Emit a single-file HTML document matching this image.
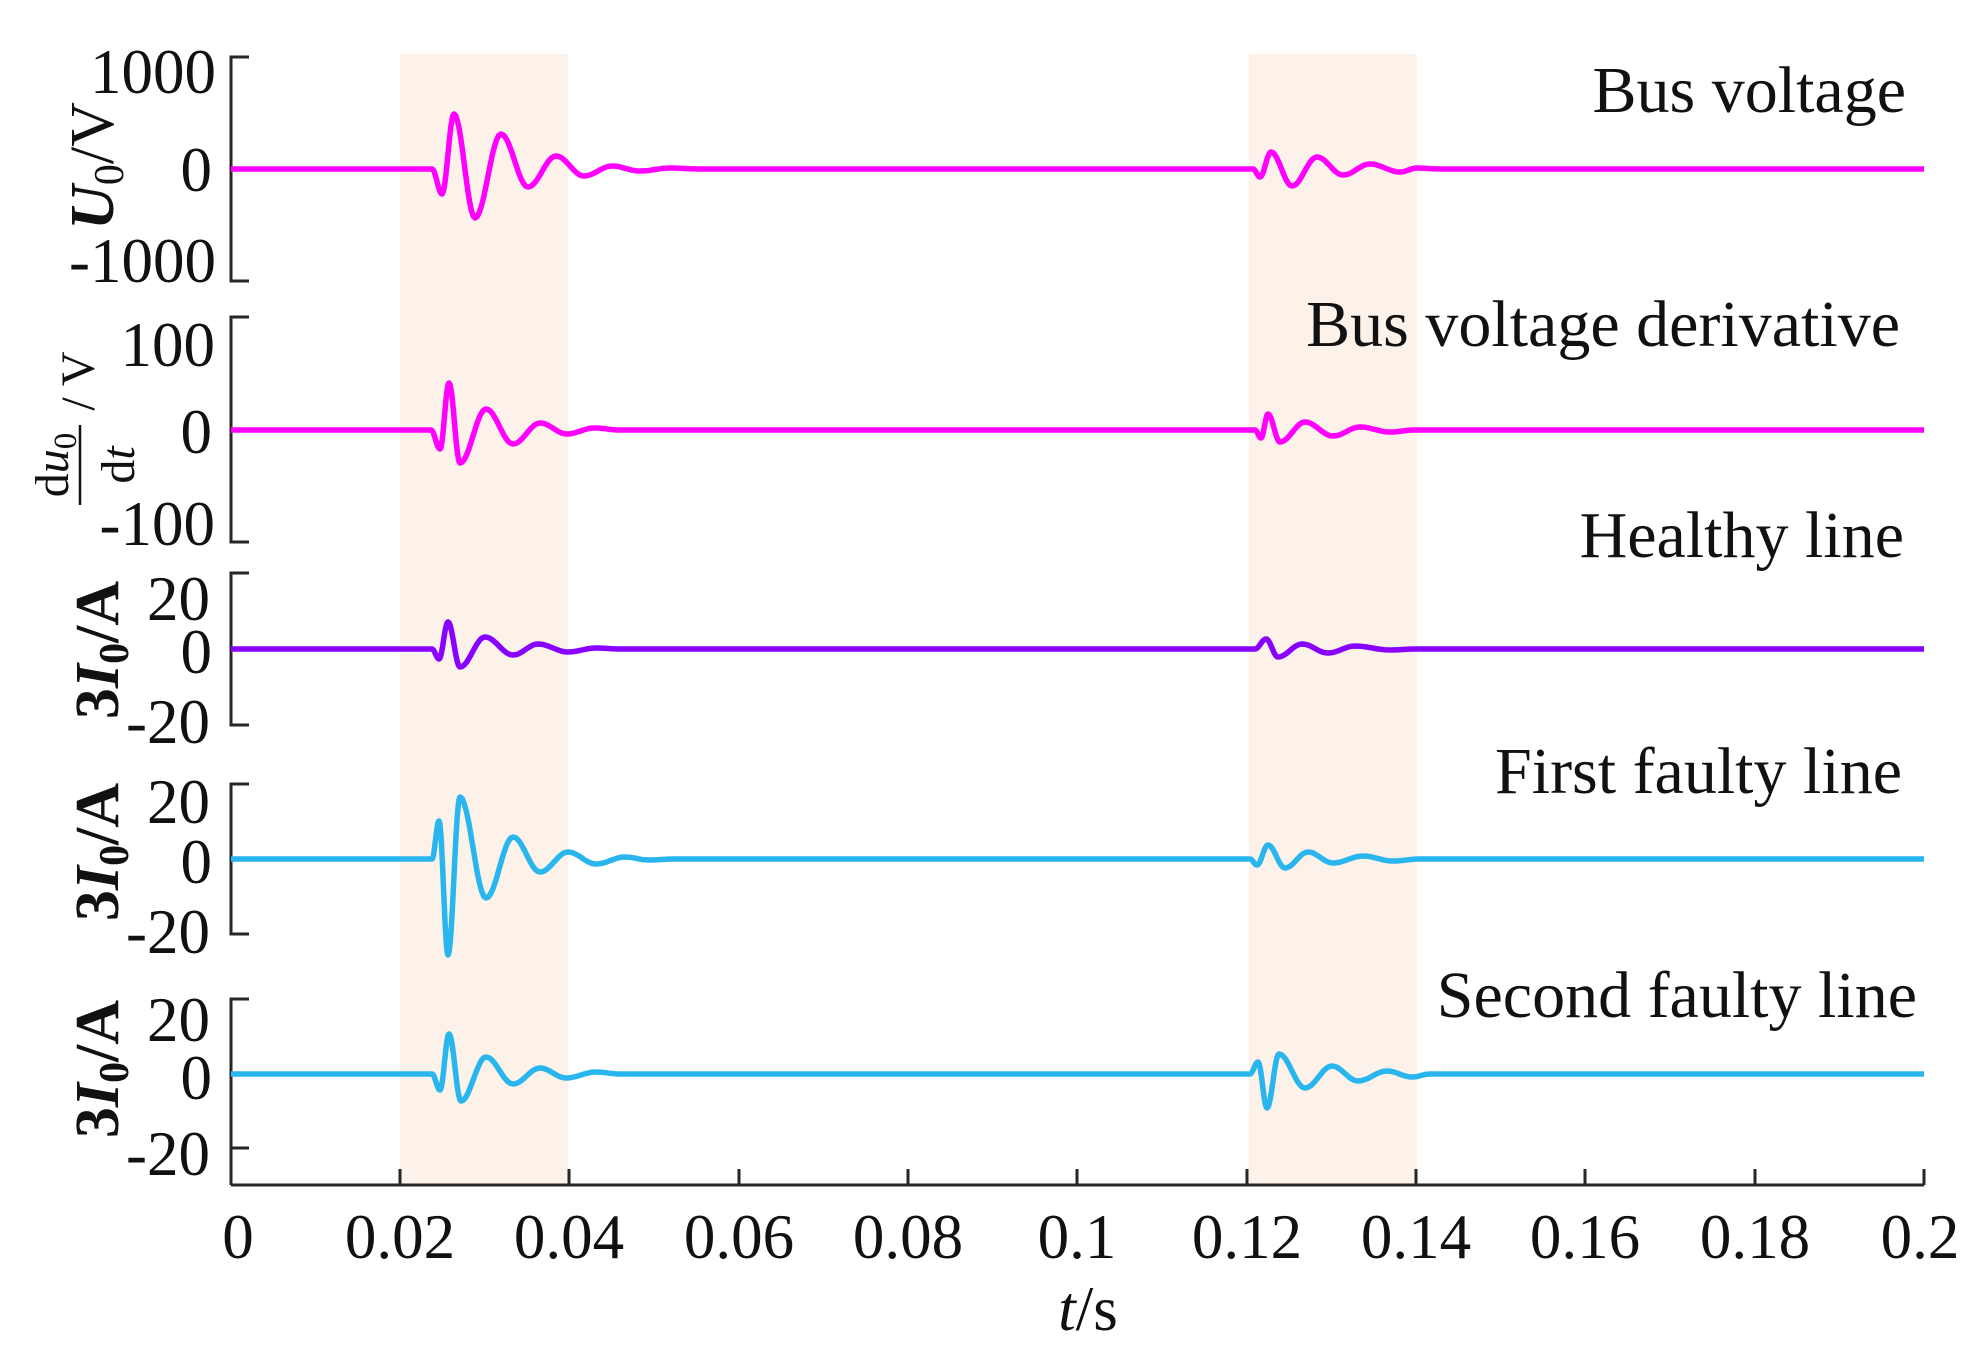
<!DOCTYPE html>
<html><head><meta charset="utf-8">
<style>
html,body{margin:0;padding:0;background:#fff;}
svg{display:block;}
text{font-family:"Liberation Serif",serif;fill:#111;}
</style></head>
<body>
<svg id="s" width="1966" height="1356" viewBox="0 0 1966 1356" xmlns="http://www.w3.org/2000/svg">
<rect x="400" y="54" width="168" height="1131" fill="#fcf2ea"/>
<rect x="1249" y="54" width="168" height="1131" fill="#fcf2ea"/>
<g stroke="#262626" stroke-width="3" fill="none">
<path d="M249 57H231V281H249M231 169H249"/>
<path d="M249 317H231V542H249M231 430H249"/>
<path d="M249 573H231V725H249M231 649H249"/>
<path d="M249 784H231V934H249M231 860H249"/>
<path d="M249 999H231V1185M231 1074H249M231 1148H249"/>
<path d="M231 1185H1924"/>
<path d="M231 1185v-16M400 1185v-16M569 1185v-16M739 1185v-16M908 1185v-16M1077 1185v-16M1247 1185v-16M1416 1185v-16M1585 1185v-16M1755 1185v-16M1924 1185v-16"/>
</g>
<g id="lines" fill="none" stroke-width="5.5" stroke-linejoin="round"></g>
<g font-size="63" text-anchor="end">
<text x="216" y="93">1000</text><text x="212" y="191">0</text><text x="216" y="282">-1000</text>
<text x="215" y="366">100</text><text x="212" y="453">0</text><text x="215" y="545">-100</text>
<text x="210" y="620">20</text><text x="212" y="673">0</text><text x="210" y="743">-20</text>
<text x="210" y="823">20</text><text x="212" y="883">0</text><text x="210" y="953">-20</text>
<text x="210" y="1041">20</text><text x="212" y="1099">0</text><text x="210" y="1175">-20</text>
</g>
<g font-size="63" text-anchor="middle">
<text x="238" y="1258">0</text><text x="400" y="1258">0.02</text><text x="569" y="1258">0.04</text>
<text x="739" y="1258">0.06</text><text x="908" y="1258">0.08</text><text x="1077" y="1258">0.1</text>
<text x="1247" y="1258">0.12</text><text x="1416" y="1258">0.14</text><text x="1585" y="1258">0.16</text>
<text x="1755" y="1258">0.18</text><text x="1920" y="1258">0.2</text>
<text x="1088" y="1330"><tspan font-style="italic">t</tspan>/s</text>
</g>
<g font-size="66" text-anchor="end">
<text x="1906" y="112">Bus voltage</text>
<text x="1900" y="346">Bus voltage derivative</text>
<text x="1904" y="557">Healthy line</text>
<text x="1902" y="793">First faulty line</text>
<text x="1917" y="1017">Second faulty line</text>
</g>
<g font-size="62" text-anchor="middle">
<text transform="translate(113,166) rotate(-90)"><tspan font-weight="bold" font-style="italic">U</tspan><tspan font-size="42" dy="10">0</tspan><tspan dy="-10">/V</tspan></text>
<text transform="translate(118,650) rotate(-90)" font-weight="bold">3<tspan font-style="italic">I</tspan><tspan font-size="42" dy="10">0</tspan><tspan dy="-10">/A</tspan></text>
<text transform="translate(118,852) rotate(-90)" font-weight="bold">3<tspan font-style="italic">I</tspan><tspan font-size="42" dy="10">0</tspan><tspan dy="-10">/A</tspan></text>
<text transform="translate(118,1069) rotate(-90)" font-weight="bold">3<tspan font-style="italic">I</tspan><tspan font-size="42" dy="10">0</tspan><tspan dy="-10">/A</tspan></text>
</g>
<g transform="translate(80,465) rotate(-90)">
<line x1="-40" y1="0" x2="40" y2="0" stroke="#111" stroke-width="2.5"/>
<text x="0" y="-12" font-size="48" text-anchor="middle">d<tspan font-style="italic">u</tspan><tspan font-size="33" dy="8">0</tspan></text>
<text x="0" y="54" font-size="48" text-anchor="middle">d<tspan font-style="italic">t</tspan></text>
<text x="84" y="14" font-size="48" text-anchor="middle">/ V</text>
</g>
</svg>
<script>
var series=[
 {c:"#ff00ff",z:169,p:[[432,0],[442,-25],[454,55],[475,-49],[501,35],[528,-18],[556,13],[584,-7],[612,3],[640,-2],[670,1],[700,0],[1253,0],[1260,-8],[1271,17],[1292,-17],[1317,12],[1343,-6],[1370,5],[1400,-3],[1417,1],[1440,0]]},
 {c:"#ff00ff",z:430,p:[[431,0],[440,-19],[449,47],[460,-33],[486,21],[513,-14],[540,7],[567,-4],[594,2],[620,0],[1255,0],[1261,-8],[1268,16],[1280,-12],[1305,8],[1333,-6],[1360,3],[1390,-2],[1415,0]]},
 {c:"#8800ff",z:649,p:[[432,0],[439,-10],[448,27],[460,-18],[485,12],[513,-6],[538,5],[568,-3],[596,1],[620,0],[1255,0],[1266,10],[1278,-8],[1302,5],[1328,-4],[1355,3],[1390,-1],[1415,0]]},
 {c:"#29b5ee",z:859,p:[[432,0],[439,38],[448,-96],[460,62],[486,-39],[513,22],[540,-13],[568,7],[596,-5],[625,2],[649,-1],[675,0],[1250,0],[1257,-6],[1268,14],[1285,-9],[1308,7],[1333,-4],[1363,3],[1393,-2],[1420,0]]},
 {c:"#29b5ee",z:1074,p:[[432,0],[440,-16],[449,40],[461,-27],[486,17],[513,-10],[540,6],[566,-4],[596,2],[620,0],[1250,0],[1258,12],[1267,-34],[1279,20],[1305,-14],[1332,8],[1358,-7],[1387,3],[1412,-3],[1430,0]]}
];
var g=document.getElementById("lines"),ns="http://www.w3.org/2000/svg";
series.forEach(function(s){
 var pts=[[231,0]].concat(s.p).concat([[1924,0]]);
 var d="M231 "+s.z;
 for(var i=0;i<pts.length-1;i++){
  var a=pts[i],b=pts[i+1];
  if(a[1]==0&&b[1]==0){d+=" L"+b[0]+" "+s.z;continue;}
  for(var k=1;k<=12;k++){
   var f=k/12,e=(1-Math.cos(Math.PI*f))/2;
   var x=a[0]+(b[0]-a[0])*f,y=s.z-(a[1]+(b[1]-a[1])*e);
   d+=" L"+x.toFixed(1)+" "+y.toFixed(1);
  }
 }
 var p=document.createElementNS(ns,"path");
 p.setAttribute("d",d);p.setAttribute("stroke",s.c);
 g.appendChild(p);
});
</script>
</body></html>
